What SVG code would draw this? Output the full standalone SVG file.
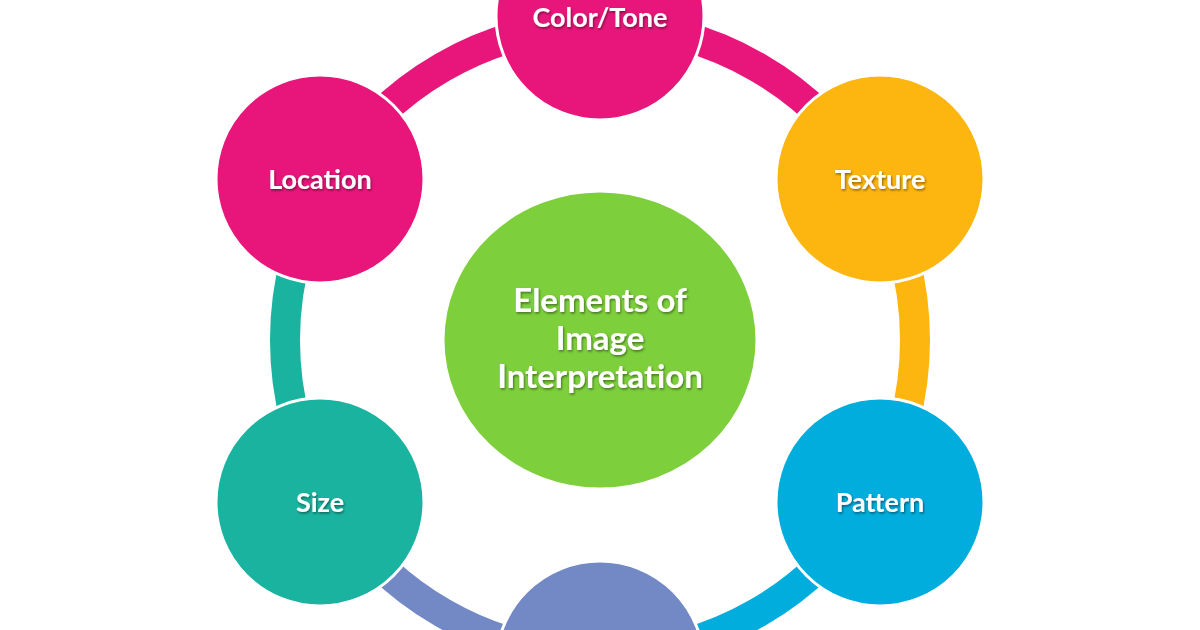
<svg xmlns="http://www.w3.org/2000/svg" width="1200" height="630" viewBox="0 0 1200 630">
  <defs>
    <filter id="shadow" x="-20%" y="-20%" width="140%" height="140%">
      <feDropShadow dx="1" dy="1.5" stdDeviation="1.2" flood-color="#000" flood-opacity="0.45"/>
    </filter>
  </defs>
  <style>
    .arc { fill: none; stroke-width: 30; }
    .node { stroke: #ffffff; stroke-width: 3; }
    .label { font-family: Lato, "Open Sans", "DejaVu Sans", sans-serif; font-weight: bold; fill: #ffffff; text-anchor: middle; filter: url(#shadow); }
    .small { font-size: 27px; }
    .big { font-size: 33px; }
  </style>
  <rect width="1200" height="630" fill="#ffffff"/>
  <g id="connectors">
    <path class="arc" stroke="#E8167A" d="M600,25 A315,315 0 0 1 872.8,182.5"/>
    <path class="arc" stroke="#FDB50F" d="M872.8,182.5 A315,315 0 0 1 872.8,497.5"/>
    <path class="arc" stroke="#00ADDC" d="M872.8,497.5 A315,315 0 0 1 600,655"/>
    <path class="arc" stroke="#7389C6" d="M600,655 A315,315 0 0 1 327.2,497.5"/>
    <path class="arc" stroke="#1AB39F" d="M327.2,497.5 A315,315 0 0 1 327.2,182.5"/>
    <path class="arc" stroke="#E8167A" d="M327.2,182.5 A315,315 0 0 1 600,25"/>
  </g>
  <g id="center">
    <ellipse class="node" cx="600" cy="340" rx="157" ry="149" fill="#7DCF3C"/>
    <text class="label big" x="600" y="312">Elements of</text>
    <text class="label big" x="600" y="350">Image</text>
    <text class="label big" x="600" y="388">Interpretation</text>
  </g>
  <g id="color-tone">
    <circle class="node" cx="600" cy="16" r="104" fill="#E8167A"/>
    <text class="label small" x="600" y="27">Color/Tone</text>
  </g>
  <g id="texture">
    <circle class="node" cx="880" cy="179" r="104" fill="#FDB50F"/>
    <text class="label small" x="880" y="189">Texture</text>
  </g>
  <g id="pattern">
    <circle class="node" cx="880" cy="502" r="104" fill="#00ADDC"/>
    <text class="label small" x="880" y="512">Pattern</text>
  </g>
  <g id="shape">
    <circle class="node" cx="600" cy="665" r="104" fill="#7389C6"/>
  </g>
  <g id="size">
    <circle class="node" cx="320" cy="502" r="104" fill="#1AB39F"/>
    <text class="label small" x="320" y="512">Size</text>
  </g>
  <g id="location">
    <circle class="node" cx="320" cy="179" r="104" fill="#E8167A"/>
    <text class="label small" x="320" y="189">Location</text>
  </g>
</svg>
